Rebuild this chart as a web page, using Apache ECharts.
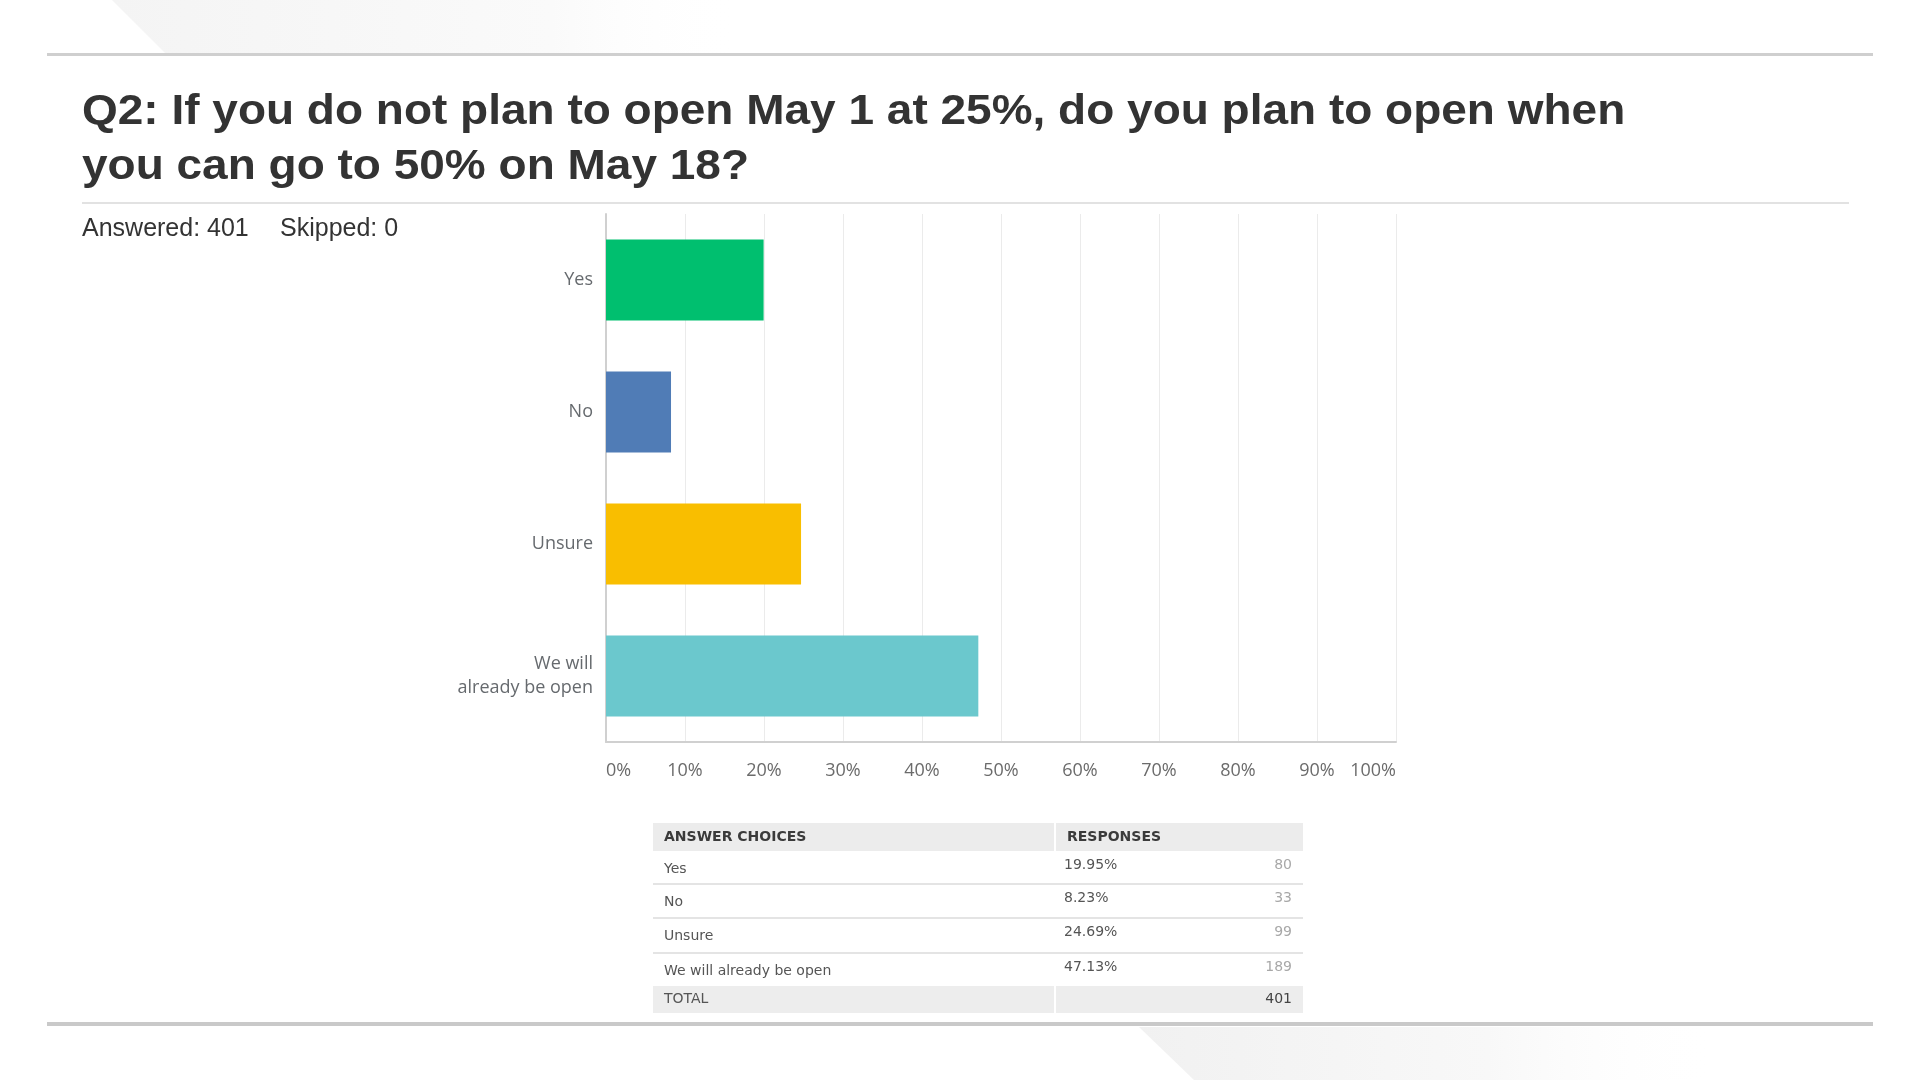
<!DOCTYPE html>
<html>
<head>
<meta charset="utf-8">
<style>
  html, body { margin: 0; padding: 0; background: #ffffff; }
  #chart { width: 1920px; height: 1080px; }
</style>
<script src="https://cdn.jsdelivr.net/npm/echarts@6/dist/echarts.min.js"></script>
</head>
<body>
<div id="chart"></div>
<script>
// ---- data ----
const titleLines = [
  'Q2: If you do not plan to open May 1 at 25%, do you plan to open when',
  'you can go to 50% on May 18?'
];
const answeredCount = 401;
const skippedCount = 0;
const categories = ['Yes', 'No', 'Unsure', 'We will already be open'];
const axisCategoryLabels = ['Yes', 'No', 'Unsure', 'We will\nalready be open'];
const percentValues = [19.95, 8.23, 24.69, 47.13];
const responseCounts = [80, 33, 99, 189];
const totalResponses = 401;
const xTicks = [0, 10, 20, 30, 40, 50, 60, 70, 80, 90, 100];
const barColors = ['#00bf6f', '#507cb6', '#f9be00', '#6bc8cd'];

// ---- layout helpers (styles only) ----
const tableLeft = 653, tableRight = 1303, colDivider = 1054;
const headerTop = 823, headerBottom = 851;
const rowTops = [851, 884, 918, 953];
const totalTop = 986, totalBottom = 1013;
const tableFont = '"DejaVu Sans", sans-serif';

const chart = echarts.init(document.getElementById('chart'), null, { renderer: 'canvas' });

const graphics = [];

// decorative background shapes
graphics.push({
  type: 'polygon', silent: true, z: -10,
  shape: { points: [[112, 0], [740, 0], [740, 53], [165, 53]] },
  style: { fill: { type: 'linear', x: 0, y: 0, x2: 1, y2: 0, colorStops: [
    { offset: 0, color: '#f4f4f4' }, { offset: 0.7, color: '#fafafa' }, { offset: 1, color: 'rgba(255,255,255,0)' }] } }
});
graphics.push({
  type: 'polygon', silent: true, z: -10,
  shape: { points: [[1139, 1027], [1720, 1027], [1720, 1080], [1194, 1080]] },
  style: { fill: { type: 'linear', x: 0, y: 0, x2: 1, y2: 0, colorStops: [
    { offset: 0, color: '#f1f1f1' }, { offset: 0.6, color: '#f8f8f8' }, { offset: 1, color: 'rgba(255,255,255,0)' }] } }
});

// horizontal rules
graphics.push({ type: 'rect', silent: true, shape: { x: 47, y: 53, width: 1826, height: 3 }, style: { fill: '#cfcfcf' } });
graphics.push({ type: 'rect', silent: true, shape: { x: 82, y: 202, width: 1767, height: 2 }, style: { fill: '#e2e2e2' } });
graphics.push({ type: 'rect', silent: true, shape: { x: 47, y: 1022, width: 1826, height: 4 }, style: { fill: '#c9c9c9' } });

// title
const titleYs = [112, 167];
titleLines.forEach((t, i) => {
  graphics.push({
    type: 'text', silent: true, x: 82, y: titleYs[i], scaleX: 1.095,
    style: { text: t, fill: '#333333', font: 'bold 42px "Liberation Sans", Arial, sans-serif', verticalAlign: 'middle', align: 'left' }
  });
});

// answered / skipped
graphics.push({ type: 'text', silent: true, x: 82, y: 229,
  style: { text: 'Answered: ' + answeredCount, fill: '#333333', font: '25px "Liberation Sans", Arial, sans-serif', verticalAlign: 'middle' } });
graphics.push({ type: 'text', silent: true, x: 280, y: 229,
  style: { text: 'Skipped: ' + skippedCount, fill: '#333333', font: '25px "Liberation Sans", Arial, sans-serif', verticalAlign: 'middle' } });

// table header
graphics.push({ type: 'rect', silent: true, shape: { x: tableLeft, y: headerTop, width: colDivider - tableLeft, height: headerBottom - headerTop }, style: { fill: '#ececec' } });
graphics.push({ type: 'rect', silent: true, shape: { x: colDivider + 2, y: headerTop, width: tableRight - colDivider - 2, height: headerBottom - headerTop }, style: { fill: '#ececec' } });
graphics.push({ type: 'text', silent: true, x: 664, y: 837,
  style: { text: 'ANSWER CHOICES', fill: '#3b3b3b', font: 'bold 14px ' + tableFont, verticalAlign: 'middle' } });
graphics.push({ type: 'text', silent: true, x: 1067, y: 837,
  style: { text: 'RESPONSES', fill: '#3b3b3b', font: 'bold 14px ' + tableFont, verticalAlign: 'middle' } });

// table rows
categories.forEach((c, i) => {
  const top = rowTops[i];
  graphics.push({ type: 'text', silent: true, x: 664, y: top + 18,
    style: { text: c, fill: '#555555', font: '14px ' + tableFont, verticalAlign: 'middle' } });
  graphics.push({ type: 'text', silent: true, x: 1064, y: top + 14,
    style: { text: percentValues[i].toFixed(2) + '%', fill: '#555555', font: '14px ' + tableFont, verticalAlign: 'middle' } });
  graphics.push({ type: 'text', silent: true, x: 1292, y: top + 14,
    style: { text: String(responseCounts[i]), fill: '#a8a8a8', font: '14px ' + tableFont, verticalAlign: 'middle', align: 'right' } });
  if (i < categories.length - 1) {
    graphics.push({ type: 'rect', silent: true, shape: { x: tableLeft, y: rowTops[i + 1] - 1, width: tableRight - tableLeft, height: 2 }, style: { fill: '#e4e4e4' } });
  }
});

// total row
graphics.push({ type: 'rect', silent: true, shape: { x: tableLeft, y: totalTop, width: colDivider - tableLeft, height: totalBottom - totalTop }, style: { fill: '#ededed' } });
graphics.push({ type: 'rect', silent: true, shape: { x: colDivider + 2, y: totalTop, width: tableRight - colDivider - 2, height: totalBottom - totalTop }, style: { fill: '#ededed' } });
graphics.push({ type: 'text', silent: true, x: 664, y: 999,
  style: { text: 'TOTAL', fill: '#555555', font: '14px ' + tableFont, verticalAlign: 'middle' } });
graphics.push({ type: 'text', silent: true, x: 1292, y: 999,
  style: { text: String(totalResponses), fill: '#444444', font: '14px ' + tableFont, verticalAlign: 'middle', align: 'right' } });

const option = {
  animation: false,
  backgroundColor: '#ffffff',
  grid: { left: 606, right: 524, top: 214, bottom: 338, containLabel: false },
  xAxis: {
    type: 'value',
    min: xTicks[0],
    max: xTicks[xTicks.length - 1],
    interval: xTicks[1] - xTicks[0],
    axisLine: { show: true, lineStyle: { color: '#d0d0d0', width: 2 } },
    axisTick: { show: false },
    splitLine: { show: true, lineStyle: { color: '#ebebeb', width: 1 } },
    axisLabel: {
      formatter: '{value}%', color: '#6b6b6b', fontSize: 18, margin: 20,
      fontFamily: '"Open Sans", sans-serif',
      alignMinLabel: 'left', alignMaxLabel: 'right'
    }
  },
  yAxis: {
    type: 'category',
    inverse: true,
    data: categories,
    axisLine: { show: true, lineStyle: { color: '#d0d0d0', width: 2 } },
    axisTick: { show: false },
    axisLabel: {
      color: '#666a6e', fontSize: 18, margin: 13, lineHeight: 24,
      fontFamily: '"Open Sans", sans-serif',
      formatter: (v, idx) => axisCategoryLabels[idx]
    }
  },
  series: [{
    type: 'bar',
    data: percentValues.map((v, i) => ({ value: v, itemStyle: { color: barColors[i] } })),
    barWidth: 81,
    silent: true
  }],
  graphic: { elements: graphics }
};

chart.setOption(option);
</script>
</body>
</html>
